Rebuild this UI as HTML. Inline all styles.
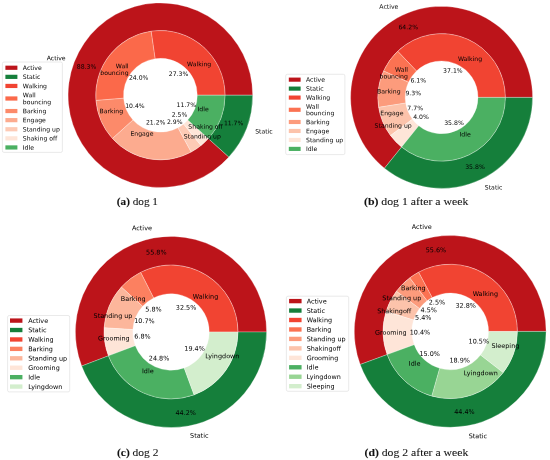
<!DOCTYPE html>
<html lang="en"><head><meta charset="utf-8"><title>Dog activity pie charts</title>
<style>html,body{margin:0;padding:0;background:#fff;}body{width:550px;height:460px;overflow:hidden;}svg{display:block;}</style>
</head><body>
<svg width="550" height="460" viewBox="0 0 550 460" font-family="'DejaVu Sans', 'Liberation Sans', sans-serif" fill="#000">
<g id="chart-a">
<path d="M252.70,95.20 A92.30,92.30 0 1 0 228.86,157.10 L208.32,138.53 A64.61,64.61 0 1 1 225.01,95.20 Z" fill="#bc141a" stroke="#fff" stroke-width="0.28" stroke-linejoin="round"/>
<path d="M228.86,157.10 A92.30,92.30 0 0 0 252.70,95.20 L225.01,95.20 A64.61,64.61 0 0 1 208.32,138.53 Z" fill="#157f3b" stroke="#fff" stroke-width="0.28" stroke-linejoin="round"/>
<path d="M225.01,95.20 A64.61,64.61 0 0 0 151.10,31.26 L155.08,58.66 A36.92,36.92 0 0 1 197.32,95.20 Z" fill="#f14432" stroke="#fff" stroke-width="0.28" stroke-linejoin="round"/>
<path d="M151.10,31.26 A64.61,64.61 0 0 0 96.01,100.47 L123.60,98.21 A36.92,36.92 0 0 1 155.08,58.66 Z" fill="#fb694a" stroke="#fff" stroke-width="0.28" stroke-linejoin="round"/>
<path d="M96.01,100.47 A64.61,64.61 0 0 0 112.48,138.53 L133.01,119.96 A36.92,36.92 0 0 1 123.60,98.21 Z" fill="#fc8a6a" stroke="#fff" stroke-width="0.28" stroke-linejoin="round"/>
<path d="M112.48,138.53 A64.61,64.61 0 0 0 191.17,152.01 L177.98,127.66 A36.92,36.92 0 0 1 133.01,119.96 Z" fill="#fcab8f" stroke="#fff" stroke-width="0.28" stroke-linejoin="round"/>
<path d="M191.17,152.01 A64.61,64.61 0 0 0 200.96,145.50 L183.57,123.94 A36.92,36.92 0 0 1 177.98,127.66 Z" fill="#fdcab5" stroke="#fff" stroke-width="0.28" stroke-linejoin="round"/>
<path d="M200.96,145.50 A64.61,64.61 0 0 0 208.32,138.53 L187.79,119.96 A36.92,36.92 0 0 1 183.57,123.94 Z" fill="#fee5d8" stroke="#fff" stroke-width="0.28" stroke-linejoin="round"/>
<path d="M208.32,138.53 A64.61,64.61 0 0 0 225.01,95.20 L197.32,95.20 A36.92,36.92 0 0 1 187.79,119.96 Z" fill="#4bb062" stroke="#fff" stroke-width="0.28" stroke-linejoin="round"/>
<text x="65.65" y="60.25" transform="rotate(0.03 65.65 60.25)" text-anchor="end" font-size="6.13">Active</text>
<text x="86.49" y="68.85" transform="rotate(0.03 86.49 68.85)" text-anchor="middle" font-size="6.13">88.3%</text>
<text x="255.15" y="133.52" transform="rotate(0.03 255.15 133.52)" text-anchor="start" font-size="6.13">Static</text>
<text x="233.61" y="125.23" transform="rotate(0.03 233.61 125.23)" text-anchor="middle" font-size="6.13">11.7%</text>
<text x="187.03" y="66.25" transform="rotate(0.03 187.03 66.25)" text-anchor="start" font-size="6.13">Walking</text>
<text x="178.58" y="76.03" transform="rotate(0.03 178.58 76.03)" text-anchor="middle" font-size="6.13">27.3%</text>
<text x="128.55" y="68.24" transform="rotate(0.03 128.55 68.24)" text-anchor="end" font-size="6.13">Wall</text>
<text x="128.55" y="75.14" transform="rotate(0.03 128.55 75.14)" text-anchor="end" font-size="6.13">bouncing</text>
<text x="138.66" y="79.74" transform="rotate(0.03 138.66 79.74)" text-anchor="middle" font-size="6.13">24.0%</text>
<text x="123.04" y="113.20" transform="rotate(0.03 123.04 113.20)" text-anchor="end" font-size="6.13">Barking</text>
<text x="134.90" y="108.07" transform="rotate(0.03 134.90 108.07)" text-anchor="middle" font-size="6.13">10.4%</text>
<text x="153.53" y="135.66" transform="rotate(0.03 153.53 135.66)" text-anchor="end" font-size="6.13">Engage</text>
<text x="155.71" y="124.42" transform="rotate(0.03 155.71 124.42)" text-anchor="middle" font-size="6.13">21.2%</text>
<text x="183.86" y="138.52" transform="rotate(0.03 183.86 138.52)" text-anchor="start" font-size="6.13">Standing up</text>
<text x="174.70" y="124.06" transform="rotate(0.03 174.70 124.06)" text-anchor="middle" font-size="6.13">2.9%</text>
<text x="188.36" y="128.82" transform="rotate(0.03 188.36 128.82)" text-anchor="start" font-size="6.13">Shaking off</text>
<text x="179.48" y="116.73" transform="rotate(0.03 179.48 116.73)" text-anchor="middle" font-size="6.13">2.5%</text>
<text x="197.49" y="111.27" transform="rotate(0.03 197.49 111.27)" text-anchor="start" font-size="6.13">Idle</text>
<text x="186.33" y="107.02" transform="rotate(0.03 186.33 107.02)" text-anchor="middle" font-size="6.13">11.7%</text>
<rect x="2.4" y="62.0" width="60.0" height="90.4" rx="1.6" ry="1.6" fill="#fff" fill-opacity="0.8" stroke="#d8d8d8" stroke-width="0.55"/>
<rect x="5.40" y="65.65" width="12.00" height="4.20" fill="#bc141a"/>
<text x="22.80" y="69.96" transform="rotate(0.03 22.80 69.96)" text-anchor="start" font-size="6.13">Active</text>
<rect x="5.40" y="74.75" width="12.00" height="4.20" fill="#157f3b"/>
<text x="22.80" y="79.06" transform="rotate(0.03 22.80 79.06)" text-anchor="start" font-size="6.13">Static</text>
<rect x="5.40" y="83.85" width="12.00" height="4.20" fill="#f14432"/>
<text x="22.80" y="88.16" transform="rotate(0.03 22.80 88.16)" text-anchor="start" font-size="6.13">Walking</text>
<rect x="5.40" y="96.40" width="12.00" height="4.20" fill="#fb694a"/>
<text x="22.80" y="97.26" transform="rotate(0.03 22.80 97.26)" text-anchor="start" font-size="6.13">Wall</text>
<text x="22.80" y="104.16" transform="rotate(0.03 22.80 104.16)" text-anchor="start" font-size="6.13">bouncing</text>
<rect x="5.40" y="108.95" width="12.00" height="4.20" fill="#fc8a6a"/>
<text x="22.80" y="113.26" transform="rotate(0.03 22.80 113.26)" text-anchor="start" font-size="6.13">Barking</text>
<rect x="5.40" y="118.05" width="12.00" height="4.20" fill="#fcab8f"/>
<text x="22.80" y="122.36" transform="rotate(0.03 22.80 122.36)" text-anchor="start" font-size="6.13">Engage</text>
<rect x="5.40" y="127.15" width="12.00" height="4.20" fill="#fdcab5"/>
<text x="22.80" y="131.46" transform="rotate(0.03 22.80 131.46)" text-anchor="start" font-size="6.13">Standing up</text>
<rect x="5.40" y="136.25" width="12.00" height="4.20" fill="#fee5d8"/>
<text x="22.80" y="140.56" transform="rotate(0.03 22.80 140.56)" text-anchor="start" font-size="6.13">Shaking off</text>
<rect x="5.40" y="145.35" width="12.00" height="4.20" fill="#4bb062"/>
<text x="22.80" y="149.66" transform="rotate(0.03 22.80 149.66)" text-anchor="start" font-size="6.13">Idle</text>
<text x="116.8" y="204.7" textLength="41.2" lengthAdjust="spacingAndGlyphs" font-family="'Liberation Serif', 'DejaVu Serif', serif" font-size="10.4" fill="#111" stroke="#111" stroke-width="0.08"><tspan font-weight="bold">(a)</tspan> dog 1</text>
</g>
<g id="chart-b">
<path d="M532.60,97.40 A91.00,91.00 0 1 0 384.48,168.24 L401.62,146.99 A63.70,63.70 0 1 1 505.30,97.40 Z" fill="#bc141a" stroke="#fff" stroke-width="0.28" stroke-linejoin="round"/>
<path d="M384.48,168.24 A91.00,91.00 0 0 0 532.60,97.40 L505.30,97.40 A63.70,63.70 0 0 1 401.62,146.99 Z" fill="#157f3b" stroke="#fff" stroke-width="0.28" stroke-linejoin="round"/>
<path d="M505.30,97.40 A63.70,63.70 0 0 0 397.70,51.24 L416.52,71.02 A36.40,36.40 0 0 1 478.00,97.40 Z" fill="#f14432" stroke="#fff" stroke-width="0.28" stroke-linejoin="round"/>
<path d="M397.70,51.24 A63.70,63.70 0 0 0 383.63,71.00 L408.47,82.32 A36.40,36.40 0 0 1 416.52,71.02 Z" fill="#fb7252" stroke="#fff" stroke-width="0.28" stroke-linejoin="round"/>
<path d="M383.63,71.00 A63.70,63.70 0 0 0 378.68,107.36 L405.65,103.09 A36.40,36.40 0 0 1 408.47,82.32 Z" fill="#fc9b7c" stroke="#fff" stroke-width="0.28" stroke-linejoin="round"/>
<path d="M378.68,107.36 A63.70,63.70 0 0 0 390.54,135.49 L412.42,119.16 A36.40,36.40 0 0 1 405.65,103.09 Z" fill="#fcc3ab" stroke="#fff" stroke-width="0.28" stroke-linejoin="round"/>
<path d="M390.54,135.49 A63.70,63.70 0 0 0 401.62,146.99 L418.75,125.74 A36.40,36.40 0 0 1 412.42,119.16 Z" fill="#fee5d8" stroke="#fff" stroke-width="0.28" stroke-linejoin="round"/>
<path d="M401.62,146.99 A63.70,63.70 0 0 0 505.30,97.40 L478.00,97.40 A36.40,36.40 0 0 1 418.75,125.74 Z" fill="#4bb062" stroke="#fff" stroke-width="0.28" stroke-linejoin="round"/>
<text x="398.41" y="8.82" transform="rotate(0.03 398.41 8.82)" text-anchor="end" font-size="6.16">Active</text>
<text x="408.23" y="29.34" transform="rotate(0.03 408.23 29.34)" text-anchor="middle" font-size="6.16">64.2%</text>
<text x="484.79" y="189.43" transform="rotate(0.03 484.79 189.43)" text-anchor="start" font-size="6.16">Static</text>
<text x="474.97" y="168.90" transform="rotate(0.03 474.97 168.90)" text-anchor="middle" font-size="6.16">35.8%</text>
<text x="457.92" y="61.07" transform="rotate(0.03 457.92 61.07)" text-anchor="start" font-size="6.16">Walking</text>
<text x="452.90" y="72.78" transform="rotate(0.03 452.90 72.78)" text-anchor="middle" font-size="6.16">37.1%</text>
<text x="407.87" y="71.70" transform="rotate(0.03 407.87 71.70)" text-anchor="end" font-size="6.16">Wall</text>
<text x="407.87" y="78.51" transform="rotate(0.03 407.87 78.51)" text-anchor="end" font-size="6.16">bouncing</text>
<text x="418.25" y="82.50" transform="rotate(0.03 418.25 82.50)" text-anchor="middle" font-size="6.16">6.1%</text>
<text x="400.57" y="93.55" transform="rotate(0.03 400.57 93.55)" text-anchor="end" font-size="6.16">Barking</text>
<text x="413.20" y="95.26" transform="rotate(0.03 413.20 95.26)" text-anchor="middle" font-size="6.16">9.3%</text>
<text x="403.45" y="115.21" transform="rotate(0.03 403.45 115.21)" text-anchor="end" font-size="6.16">Engage</text>
<text x="415.19" y="110.26" transform="rotate(0.03 415.19 110.26)" text-anchor="middle" font-size="6.16">7.7%</text>
<text x="411.78" y="127.85" transform="rotate(0.03 411.78 127.85)" text-anchor="end" font-size="6.16">Standing up</text>
<text x="420.95" y="119.01" transform="rotate(0.03 420.95 119.01)" text-anchor="middle" font-size="6.16">4.0%</text>
<text x="459.46" y="136.48" transform="rotate(0.03 459.46 136.48)" text-anchor="start" font-size="6.16">Idle</text>
<text x="453.97" y="124.98" transform="rotate(0.03 453.97 124.98)" text-anchor="middle" font-size="6.16">35.8%</text>
<rect x="285.7" y="74.3" width="59.2" height="80.3" rx="1.6" ry="1.6" fill="#fff" fill-opacity="0.8" stroke="#d8d8d8" stroke-width="0.55"/>
<rect x="288.80" y="77.58" width="11.83" height="4.14" fill="#bc141a"/>
<text x="306.00" y="81.87" transform="rotate(0.03 306.00 81.87)" text-anchor="start" font-size="6.16">Active</text>
<rect x="288.80" y="86.55" width="11.83" height="4.14" fill="#157f3b"/>
<text x="306.00" y="90.84" transform="rotate(0.03 306.00 90.84)" text-anchor="start" font-size="6.16">Static</text>
<rect x="288.80" y="95.52" width="11.83" height="4.14" fill="#f14432"/>
<text x="306.00" y="99.81" transform="rotate(0.03 306.00 99.81)" text-anchor="start" font-size="6.16">Walking</text>
<rect x="288.80" y="107.72" width="11.83" height="4.14" fill="#fb7252"/>
<text x="306.00" y="108.78" transform="rotate(0.03 306.00 108.78)" text-anchor="start" font-size="6.16">Wall</text>
<text x="306.00" y="115.23" transform="rotate(0.03 306.00 115.23)" text-anchor="start" font-size="6.16">bouncing</text>
<rect x="288.80" y="119.92" width="11.83" height="4.14" fill="#fc9b7c"/>
<text x="306.00" y="124.20" transform="rotate(0.03 306.00 124.20)" text-anchor="start" font-size="6.16">Barking</text>
<rect x="288.80" y="128.89" width="11.83" height="4.14" fill="#fcc3ab"/>
<text x="306.00" y="133.18" transform="rotate(0.03 306.00 133.18)" text-anchor="start" font-size="6.16">Engage</text>
<rect x="288.80" y="137.86" width="11.83" height="4.14" fill="#fee5d8"/>
<text x="306.00" y="142.15" transform="rotate(0.03 306.00 142.15)" text-anchor="start" font-size="6.16">Standing up</text>
<rect x="288.80" y="146.83" width="11.83" height="4.14" fill="#4bb062"/>
<text x="306.00" y="151.12" transform="rotate(0.03 306.00 151.12)" text-anchor="start" font-size="6.16">Idle</text>
<text x="364.0" y="204.6" textLength="104.3" lengthAdjust="spacingAndGlyphs" font-family="'Liberation Serif', 'DejaVu Serif', serif" font-size="10.4" fill="#111" stroke="#111" stroke-width="0.08"><tspan font-weight="bold">(b)</tspan> dog 1 after a week</text>
</g>
<g id="chart-c">
<path d="M266.60,332.00 A95.60,95.60 0 1 0 81.68,366.07 L108.47,355.85 A66.92,66.92 0 1 1 237.92,332.00 Z" fill="#bc141a" stroke="#fff" stroke-width="0.28" stroke-linejoin="round"/>
<path d="M81.68,366.07 A95.60,95.60 0 0 0 266.60,332.00 L237.92,332.00 A66.92,66.92 0 0 1 108.47,355.85 Z" fill="#157f3b" stroke="#fff" stroke-width="0.28" stroke-linejoin="round"/>
<path d="M237.92,332.00 A66.92,66.92 0 0 0 140.62,272.37 L153.64,297.93 A38.24,38.24 0 0 1 209.24,332.00 Z" fill="#f14432" stroke="#fff" stroke-width="0.28" stroke-linejoin="round"/>
<path d="M140.62,272.37 A66.92,66.92 0 0 0 121.36,287.12 L142.64,306.35 A38.24,38.24 0 0 1 153.64,297.93 Z" fill="#fc8060" stroke="#fff" stroke-width="0.28" stroke-linejoin="round"/>
<path d="M121.36,287.12 A66.92,66.92 0 0 0 104.21,327.80 L132.84,329.60 A38.24,38.24 0 0 1 142.64,306.35 Z" fill="#fcb69b" stroke="#fff" stroke-width="0.28" stroke-linejoin="round"/>
<path d="M104.21,327.80 A66.92,66.92 0 0 0 108.47,355.85 L135.27,345.63 A38.24,38.24 0 0 1 132.84,329.60 Z" fill="#fee5d8" stroke="#fff" stroke-width="0.28" stroke-linejoin="round"/>
<path d="M108.47,355.85 A66.92,66.92 0 0 0 194.06,394.82 L184.18,367.90 A38.24,38.24 0 0 1 135.27,345.63 Z" fill="#4bb062" stroke="#fff" stroke-width="0.28" stroke-linejoin="round"/>
<path d="M194.06,394.82 A66.92,66.92 0 0 0 237.92,332.00 L209.24,332.00 A38.24,38.24 0 0 1 184.18,367.90 Z" fill="#d3eecd" stroke="#fff" stroke-width="0.28" stroke-linejoin="round"/>
<text x="151.94" y="230.20" transform="rotate(0.03 151.94 230.20)" text-anchor="end" font-size="6.45">Active</text>
<text x="156.28" y="254.41" transform="rotate(0.03 156.28 254.41)" text-anchor="middle" font-size="6.45">55.8%</text>
<text x="190.06" y="437.74" transform="rotate(0.03 190.06 437.74)" text-anchor="start" font-size="6.45">Static</text>
<text x="185.72" y="414.94" transform="rotate(0.03 185.72 414.94)" text-anchor="middle" font-size="6.45">44.2%</text>
<text x="192.85" y="298.66" transform="rotate(0.03 192.85 298.66)" text-anchor="start" font-size="6.45">Walking</text>
<text x="186.04" y="309.79" transform="rotate(0.03 186.04 309.79)" text-anchor="middle" font-size="6.45">32.5%</text>
<text x="145.57" y="301.11" transform="rotate(0.03 145.57 301.11)" text-anchor="end" font-size="6.45">Barking</text>
<text x="153.51" y="311.47" transform="rotate(0.03 153.51 311.47)" text-anchor="middle" font-size="6.45">5.8%</text>
<text x="132.46" y="318.07" transform="rotate(0.03 132.46 318.07)" text-anchor="end" font-size="6.45">Standing up</text>
<text x="144.48" y="323.14" transform="rotate(0.03 144.48 323.14)" text-anchor="middle" font-size="6.45">10.7%</text>
<text x="129.65" y="340.61" transform="rotate(0.03 129.65 340.61)" text-anchor="end" font-size="6.45">Grooming</text>
<text x="142.55" y="338.64" transform="rotate(0.03 142.55 338.64)" text-anchor="middle" font-size="6.45">6.8%</text>
<text x="153.67" y="373.39" transform="rotate(0.03 153.67 373.39)" text-anchor="end" font-size="6.45">Idle</text>
<text x="159.08" y="360.51" transform="rotate(0.03 159.08 360.51)" text-anchor="middle" font-size="6.45">24.8%</text>
<text x="205.29" y="358.26" transform="rotate(0.03 205.29 358.26)" text-anchor="start" font-size="6.45">Lyingdown</text>
<text x="194.59" y="350.79" transform="rotate(0.03 194.59 350.79)" text-anchor="middle" font-size="6.45">19.4%</text>
<rect x="7.6" y="315.5" width="62.1" height="76.4" rx="1.6" ry="1.6" fill="#fff" fill-opacity="0.8" stroke="#d8d8d8" stroke-width="0.55"/>
<rect x="10.00" y="318.42" width="12.43" height="4.35" fill="#bc141a"/>
<text x="28.20" y="322.92" transform="rotate(0.03 28.20 322.92)" text-anchor="start" font-size="6.45">Active</text>
<rect x="10.00" y="327.85" width="12.43" height="4.35" fill="#157f3b"/>
<text x="28.20" y="332.35" transform="rotate(0.03 28.20 332.35)" text-anchor="start" font-size="6.45">Static</text>
<rect x="10.00" y="337.28" width="12.43" height="4.35" fill="#f14432"/>
<text x="28.20" y="341.77" transform="rotate(0.03 28.20 341.77)" text-anchor="start" font-size="6.45">Walking</text>
<rect x="10.00" y="346.70" width="12.43" height="4.35" fill="#fc8060"/>
<text x="28.20" y="351.20" transform="rotate(0.03 28.20 351.20)" text-anchor="start" font-size="6.45">Barking</text>
<rect x="10.00" y="356.13" width="12.43" height="4.35" fill="#fcb69b"/>
<text x="28.20" y="360.62" transform="rotate(0.03 28.20 360.62)" text-anchor="start" font-size="6.45">Standing up</text>
<rect x="10.00" y="365.55" width="12.43" height="4.35" fill="#fee5d8"/>
<text x="28.20" y="370.05" transform="rotate(0.03 28.20 370.05)" text-anchor="start" font-size="6.45">Grooming</text>
<rect x="10.00" y="374.98" width="12.43" height="4.35" fill="#4bb062"/>
<text x="28.20" y="379.47" transform="rotate(0.03 28.20 379.47)" text-anchor="start" font-size="6.45">Idle</text>
<rect x="10.00" y="384.40" width="12.43" height="4.35" fill="#d3eecd"/>
<text x="28.20" y="388.90" transform="rotate(0.03 28.20 388.90)" text-anchor="start" font-size="6.45">Lyingdown</text>
<text x="117.0" y="456.2" textLength="41.4" lengthAdjust="spacingAndGlyphs" font-family="'Liberation Serif', 'DejaVu Serif', serif" font-size="10.4" fill="#111" stroke="#111" stroke-width="0.08"><tspan font-weight="bold">(c)</tspan> dog 2</text>
</g>
<g id="chart-d">
<path d="M546.10,331.45 A95.90,95.90 0 1 0 360.18,364.50 L387.18,354.59 A67.13,67.13 0 1 1 517.33,331.45 Z" fill="#bc141a" stroke="#fff" stroke-width="0.28" stroke-linejoin="round"/>
<path d="M360.18,364.50 A95.90,95.90 0 0 0 546.10,331.45 L517.33,331.45 A67.13,67.13 0 0 1 387.18,354.59 Z" fill="#157f3b" stroke="#fff" stroke-width="0.28" stroke-linejoin="round"/>
<path d="M517.33,331.45 A67.13,67.13 0 0 0 418.60,272.22 L432.14,297.61 A38.36,38.36 0 0 1 488.56,331.45 Z" fill="#f14432" stroke="#fff" stroke-width="0.28" stroke-linejoin="round"/>
<path d="M418.60,272.22 A67.13,67.13 0 0 0 409.73,277.89 L427.07,300.85 A38.36,38.36 0 0 1 432.14,297.61 Z" fill="#fb7252" stroke="#fff" stroke-width="0.28" stroke-linejoin="round"/>
<path d="M409.73,277.89 A67.13,67.13 0 0 0 396.39,291.31 L419.45,308.51 A38.36,38.36 0 0 1 427.07,300.85 Z" fill="#fc9b7c" stroke="#fff" stroke-width="0.28" stroke-linejoin="round"/>
<path d="M396.39,291.31 A67.13,67.13 0 0 0 386.10,311.51 L413.57,320.06 A38.36,38.36 0 0 1 419.45,308.51 Z" fill="#fcc3ab" stroke="#fff" stroke-width="0.28" stroke-linejoin="round"/>
<path d="M386.10,311.51 A67.13,67.13 0 0 0 387.18,354.59 L414.19,344.67 A38.36,38.36 0 0 1 413.57,320.06 Z" fill="#fee5d8" stroke="#fff" stroke-width="0.28" stroke-linejoin="round"/>
<path d="M387.18,354.59 A67.13,67.13 0 0 0 431.88,396.03 L439.73,368.35 A38.36,38.36 0 0 1 414.19,344.67 Z" fill="#4bb062" stroke="#fff" stroke-width="0.28" stroke-linejoin="round"/>
<path d="M431.88,396.03 A67.13,67.13 0 0 0 503.24,372.59 L480.51,354.96 A38.36,38.36 0 0 1 439.73,368.35 Z" fill="#98d594" stroke="#fff" stroke-width="0.28" stroke-linejoin="round"/>
<path d="M503.24,372.59 A67.13,67.13 0 0 0 517.33,331.45 L488.56,331.45 A38.36,38.36 0 0 1 480.51,354.96 Z" fill="#d3eecd" stroke="#fff" stroke-width="0.28" stroke-linejoin="round"/>
<text x="431.74" y="228.91" transform="rotate(0.03 431.74 228.91)" text-anchor="end" font-size="6.45">Active</text>
<text x="435.93" y="252.32" transform="rotate(0.03 435.93 252.32)" text-anchor="middle" font-size="6.45">55.6%</text>
<text x="468.66" y="438.23" transform="rotate(0.03 468.66 438.23)" text-anchor="start" font-size="6.45">Static</text>
<text x="464.47" y="414.03" transform="rotate(0.03 464.47 414.03)" text-anchor="middle" font-size="6.45">44.4%</text>
<text x="472.65" y="296.05" transform="rotate(0.03 472.65 296.05)" text-anchor="start" font-size="6.45">Walking</text>
<text x="465.74" y="307.87" transform="rotate(0.03 465.74 307.87)" text-anchor="middle" font-size="6.45">32.8%</text>
<text x="425.70" y="290.30" transform="rotate(0.03 425.70 290.30)" text-anchor="end" font-size="6.45">Barking</text>
<text x="436.93" y="304.42" transform="rotate(0.03 436.93 304.42)" text-anchor="middle" font-size="6.45">2.5%</text>
<text x="421.25" y="300.31" transform="rotate(0.03 421.25 300.31)" text-anchor="end" font-size="6.45">Standing up</text>
<text x="428.77" y="312.18" transform="rotate(0.03 428.77 312.18)" text-anchor="middle" font-size="6.45">4.5%</text>
<text x="411.32" y="313.36" transform="rotate(0.03 411.32 313.36)" text-anchor="end" font-size="6.45">Shakingoff</text>
<text x="423.28" y="319.76" transform="rotate(0.03 423.28 319.76)" text-anchor="middle" font-size="6.45">5.4%</text>
<text x="406.58" y="334.87" transform="rotate(0.03 406.58 334.87)" text-anchor="end" font-size="6.45">Grooming</text>
<text x="420.00" y="334.53" transform="rotate(0.03 420.00 334.53)" text-anchor="middle" font-size="6.45">10.4%</text>
<text x="420.53" y="365.77" transform="rotate(0.03 420.53 365.77)" text-anchor="end" font-size="6.45">Idle</text>
<text x="429.66" y="355.92" transform="rotate(0.03 429.66 355.92)" text-anchor="middle" font-size="6.45">15.0%</text>
<text x="463.81" y="375.23" transform="rotate(0.03 463.81 375.23)" text-anchor="start" font-size="6.45">Lyingdown</text>
<text x="459.63" y="362.47" transform="rotate(0.03 459.63 362.47)" text-anchor="middle" font-size="6.45">18.9%</text>
<text x="491.48" y="347.91" transform="rotate(0.03 491.48 347.91)" text-anchor="start" font-size="6.45">Sleeping</text>
<text x="478.78" y="343.56" transform="rotate(0.03 478.78 343.56)" text-anchor="middle" font-size="6.45">10.5%</text>
<rect x="286.4" y="296.2" width="62.3" height="95.1" rx="1.6" ry="1.6" fill="#fff" fill-opacity="0.8" stroke="#d8d8d8" stroke-width="0.55"/>
<rect x="289.10" y="298.92" width="12.47" height="4.36" fill="#bc141a"/>
<text x="306.70" y="303.42" transform="rotate(0.03 306.70 303.42)" text-anchor="start" font-size="6.45">Active</text>
<rect x="289.10" y="308.37" width="12.47" height="4.36" fill="#157f3b"/>
<text x="306.70" y="312.88" transform="rotate(0.03 306.70 312.88)" text-anchor="start" font-size="6.45">Static</text>
<rect x="289.10" y="317.83" width="12.47" height="4.36" fill="#f14432"/>
<text x="306.70" y="322.33" transform="rotate(0.03 306.70 322.33)" text-anchor="start" font-size="6.45">Walking</text>
<rect x="289.10" y="327.28" width="12.47" height="4.36" fill="#fb7252"/>
<text x="306.70" y="331.79" transform="rotate(0.03 306.70 331.79)" text-anchor="start" font-size="6.45">Barking</text>
<rect x="289.10" y="336.74" width="12.47" height="4.36" fill="#fc9b7c"/>
<text x="306.70" y="341.24" transform="rotate(0.03 306.70 341.24)" text-anchor="start" font-size="6.45">Standing up</text>
<rect x="289.10" y="346.19" width="12.47" height="4.36" fill="#fcc3ab"/>
<text x="306.70" y="350.70" transform="rotate(0.03 306.70 350.70)" text-anchor="start" font-size="6.45">Shakingoff</text>
<rect x="289.10" y="355.65" width="12.47" height="4.36" fill="#fee5d8"/>
<text x="306.70" y="360.15" transform="rotate(0.03 306.70 360.15)" text-anchor="start" font-size="6.45">Grooming</text>
<rect x="289.10" y="365.10" width="12.47" height="4.36" fill="#4bb062"/>
<text x="306.70" y="369.61" transform="rotate(0.03 306.70 369.61)" text-anchor="start" font-size="6.45">Idle</text>
<rect x="289.10" y="374.56" width="12.47" height="4.36" fill="#98d594"/>
<text x="306.70" y="379.06" transform="rotate(0.03 306.70 379.06)" text-anchor="start" font-size="6.45">Lyingdown</text>
<rect x="289.10" y="384.01" width="12.47" height="4.36" fill="#d3eecd"/>
<text x="306.70" y="388.52" transform="rotate(0.03 306.70 388.52)" text-anchor="start" font-size="6.45">Sleeping</text>
<text x="364.5" y="455.9" textLength="103.8" lengthAdjust="spacingAndGlyphs" font-family="'Liberation Serif', 'DejaVu Serif', serif" font-size="10.4" fill="#111" stroke="#111" stroke-width="0.08"><tspan font-weight="bold">(d)</tspan> dog 2 after a week</text>
</g>
</svg>
</body></html>
